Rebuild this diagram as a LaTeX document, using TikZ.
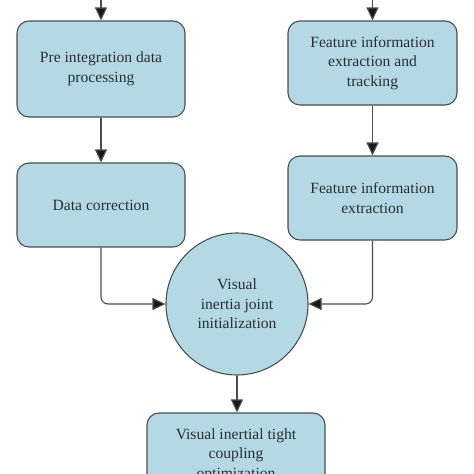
\documentclass[tikz,border=0pt]{standalone}
\usepackage{fontspec}
\setmainfont{Liberation Serif}
\usetikzlibrary{arrows.meta}
\definecolor{boxfill}{RGB}{181,217,228}
\definecolor{boxline}{RGB}{75,78,80}
\definecolor{txt}{RGB}{40,47,52}
\begin{document}
\begin{tikzpicture}[x=1pt,y=-1pt,
  every node/.style={font=\fontsize{15.6}{19.5}\selectfont, text=txt},
  procbox/.style={draw=boxline, fill=boxfill, line width=1.1pt, rounded corners=12pt,
    align=center, inner sep=0pt, minimum width=168pt, minimum height=84pt},
  joint/.style={draw=boxline, fill=boxfill, line width=1.1pt, circle,
    align=center, inner sep=0pt, minimum size=142pt},
  flow/.style={draw=boxline, line width=1.1pt, rounded corners=7pt,
    -{Triangle[length=13pt,width=12pt,fill=black!90]}}]
\useasboundingbox (0,0) rectangle (474,474);
\node[procbox, minimum height=96pt] (pre) at (101,69) {Pre integration data\\processing};
\node[procbox] (corr) at (101,205) {Data correction};
\node[procbox, minimum width=169pt] (feat) at (372.5,63) {Feature information\\extraction and\\tracking};
\node[procbox, minimum width=169pt] (fext) at (372.5,198) {Feature information\\extraction};
\node[joint] (init) at (237,304) {Visual\\inertia joint\\initialization};
\node[procbox, minimum width=178pt] (opt) at (236,455) {Visual inertial tight\\coupling\\optimization};
\coordinate (inL) at (101,-2);
\coordinate (inR) at (372.5,-2);
\draw[flow] (inL) -- (pre.north);
\draw[flow] (inR) -- (feat.north);
\draw[flow] (pre.south) -- (corr.north);
\draw[flow] (feat.south) -- (fext.north);
\draw[flow] (corr.south) |- (init.west);
\draw[flow] (fext.south) |- (init.east);
\draw[flow] (init.south) -- (init.south |- opt.north);
\end{tikzpicture}
\end{document}
